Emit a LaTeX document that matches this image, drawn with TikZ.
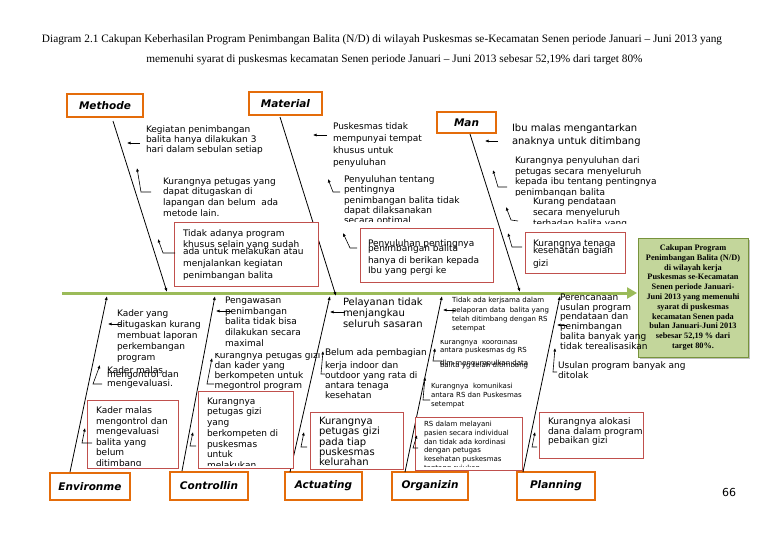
\documentclass[tikz,border=0pt]{standalone}
\usepackage{fontspec}
\setmainfont{DejaVu Sans}
\newfontfamily\tms{Liberation Serif}
\usetikzlibrary{arrows.meta,shadows}
\definecolor{orng}{HTML}{E46C0A}
\definecolor{redb}{HTML}{C0504D}
\definecolor{gfill}{HTML}{C3D69B}
\definecolor{gline}{HTML}{9BBB59}
\definecolor{gdark}{HTML}{77933C}
\newcommand\fs[2]{\fontsize{#1}{#2}\selectfont}
\tikzset{
  txt/.style={anchor=north west, inner sep=0pt, outer sep=0pt, align=left},
  catbox/.style={draw=orng, line width=2.2pt, fill=white, inner sep=0pt, font=\fs{10.5}{12}\bfseries\itshape},
  causebox/.style={draw=redb, line width=1.3pt, fill=white, inner sep=0pt, anchor=north west},
  bone/.style={line width=0.8pt, -{Latex[length=4pt,width=3.2pt]}},
  sarr/.style={line width=0.6pt, -{Latex[length=3.5pt,width=3pt]}},
}
\begin{document}
\begin{tikzpicture}[x=1pt,y=-1pt]
\useasboundingbox (0,0) rectangle (768,543);
\fill[white] (0,0) rectangle (768,543);

% title
\node[font=\tms\fs{11.3}{13}] (title1) at (382,40) {Diagram 2.1 Cakupan Keberhasilan Program Penimbangan Balita (N/D) di  wilayah Puskesmas se-Kecamatan Senen periode Januari – Juni 2013 yang};
\node[font=\tms\fs{11.3}{13}] (title2) at (394.5,60) {memenuhi syarat di puskesmas kecamatan Senen periode Januari – Juni 2013 sebesar 52,19\% dari target 80\%};

% spine
\coordinate (sp1) at (62,293);
\coordinate (sp2) at (637,293);
\draw[gline, line width=3pt, -{Triangle[length=10pt,width=11pt]}] (sp1) -- (sp2);

% effect box
\node[draw=gdark, line width=0.8pt, fill=gfill, drop shadow={shadow xshift=2pt,shadow yshift=-2pt,opacity=0.5},
      minimum width=110pt, minimum height=119pt, inner sep=0pt, align=center,
      font=\tms\bfseries\fs{8.3}{9.8}] (effect) at (693,297.5)
 {Cakupan Program\\Penimbangan Balita (N/D)\\di wilayah kerja\\Puskesmas se-Kecamatan\\Senen periode Januari-\\Juni 2013 yang memenuhi\\syarat di puskesmas\\kecamatan Senen pada\\bulan Januari-Juni 2013\\sebesar 52,19 \% dari\\target 80\%.};

% category boxes
\node[catbox, minimum width=76pt, minimum height=23pt] (methode) at (105,105.5) {Methode};
\node[catbox, minimum width=73pt, minimum height=23pt] (material) at (285.5,103.5) {Material};
\node[catbox, minimum width=59pt, minimum height=21pt] (man) at (466.5,122.5) {Man};
\node[catbox, minimum width=80pt, minimum height=27pt] (env) at (90,486.5) {Environme};
\node[catbox, minimum width=78pt, minimum height=28pt] (ctrl) at (209,486) {Controllin};
\node[catbox, minimum width=77pt, minimum height=28pt] (act) at (323.5,486) {Actuating};
\node[catbox, minimum width=76pt, minimum height=28pt] (org) at (430,486) {Organizin};
\node[catbox, minimum width=78pt, minimum height=28pt] (plan) at (556,486) {Planning};

% bones
\coordinate (bm1) at (113,121); \coordinate (bm2) at (167,292);
\coordinate (bt1) at (280,117); \coordinate (bt2) at (336,296);
\coordinate (bn1) at (470,134); \coordinate (bn2) at (520,292);
\coordinate (be1) at (70,472);  \coordinate (be2) at (107,296);
\coordinate (bc1) at (182,471); \coordinate (bc2) at (215,296);
\coordinate (ba1) at (290,472); \coordinate (ba2) at (330,296);
\coordinate (bo1) at (405,472); \coordinate (bo2) at (442,296);
\coordinate (bp1) at (523,472); \coordinate (bp2) at (560,296);
\draw[bone] (bm1) -- (bm2);
\draw[bone] (bt1) -- (bt2);
\draw[bone] (bn1) -- (bn2);
\draw[bone] (be1) -- (be2);
\draw[bone] (bc1) -- (bc2);
\draw[bone] (ba1) -- (ba2);
\draw[bone] (bo1) -- (bo2);
\draw[bone] (bp1) -- (bp2);

% ================= METHODE
\node[txt, font=\fs{9}{10}] (m1) at (146,125.7) {Kegiatan penimbangan\\balita hanya dilakukan 3\\hari dalam sebulan setiap};
\node[txt, font=\fs{9}{10.7}] (m2) at (163,177.7) {Kurangnya petugas yang\\dapat ditugaskan di\\lapangan dan belum~ ada\\metode lain.};
\node[causebox, minimum width=144pt, minimum height=64pt] (m3box) at (174,222) {};
\node[txt, font=\fs{9}{10.7}] (m3a) at (183,229.7) {Tidak adanya program\\khusus selain yang sudah};
\node[txt, font=\fs{9}{10.7}] (m3b) at (183,247.7) {ada untuk melakukan atau};
\node[txt, font=\fs{9}{11.7}] (m3c) at (183,259.7) {menjalankan kegiatan\\penimbangan balita};

\coordinate (m1a) at (140,143); \coordinate (m1b) at (127,143);
\draw[sarr] (m1a) -- (m1b);
\coordinate (m2a) at (151,192); \coordinate (m2b) at (141,192); \coordinate (m2c) at (137,168);
\draw[sarr] (m2a) -- (m2b) -- (m2c);
\coordinate (m3x) at (175,253); \coordinate (m3y) at (163,253); \coordinate (m3z) at (158,239);
\draw[sarr] (m3x) -- (m3y) -- (m3z);

% ================= MATERIAL
\node[txt, font=\fs{9}{12}] (t1) at (333,122.7) {Puskesmas tidak\\mempunyai tempat\\khusus untuk\\penyuluhan};
\begin{scope}
\clip (300,160) rectangle (530,221.5);
\node[txt, font=\fs{9}{10.3}] (t2) at (344,175.7) {Penyuluhan tentang\\pentingnya\\penimbangan balita tidak\\dapat dilaksanakan\\secara optimal};
\end{scope}
\node[causebox, minimum width=133pt, minimum height=54pt] (t3box) at (360,228) {};
\node[txt, font=\fs{9}{10}] (t3a) at (368,239.7) {Penyuluhan pentingnya};
\node[txt, font=\fs{9}{10}] (t3b) at (368,244.7) {penimbangan balita};
\node[txt, font=\fs{9}{10}] (t3c) at (368,256.7) {hanya di berikan kepada\\Ibu yang pergi ke};

\coordinate (t1a) at (327,135); \coordinate (t1b) at (313,135);
\draw[sarr] (t1a) -- (t1b);
\coordinate (t2a) at (340,192); \coordinate (t2b) at (333,192); \coordinate (t2c) at (328,179);
\draw[sarr] (t2a) -- (t2b) -- (t2c);
\coordinate (t3x) at (357,248); \coordinate (t3y) at (350,248); \coordinate (t3z) at (343,233);
\draw[sarr] (t3x) -- (t3y) -- (t3z);

% ================= MAN
\node[txt, font=\fs{10}{13}] (n1) at (512,124.3) {Ibu malas mengantarkan\\anaknya untuk ditimbang};
\begin{scope}
\clip (500,150) rectangle (700,195.5);
\node[txt, font=\fs{9}{10.6}] (n2) at (515,156.7) {Kurangnya penyuluhan dari\\petugas secara menyeluruh\\kepada ibu tentang pentingnya\\penimbangan balita};
\end{scope}
\begin{scope}
\clip (520,197.5) rectangle (640,223);
\node[txt, font=\fs{9}{11.3}] (n3) at (533,197.4) {Kurang pendataan\\secara menyeluruh\\terhadap balita yang};
\end{scope}
\node[causebox, minimum width=100pt, minimum height=41pt] (n4box) at (525,232) {};
\node[txt, font=\fs{9}{10}] (n4a) at (533,239.7) {Kurangnya tenaga};
\node[txt, font=\fs{9}{13}] (n4b) at (533,246.7) {kesehatan bagian\\gizi};

\coordinate (n1a) at (498,141); \coordinate (n1b) at (485,141);
\draw[sarr] (n1a) -- (n1b);
\coordinate (n2a) at (507,187); \coordinate (n2b) at (498,187); \coordinate (n2c) at (493,170);
\draw[sarr] (n2a) -- (n2b) -- (n2c);
\coordinate (n3a) at (518,221); \coordinate (n3b) at (511,220); \coordinate (n3c) at (506,207);
\draw[sarr] (n3a) -- (n3b) -- (n3c);
\coordinate (n4x) at (522,247); \coordinate (n4y) at (512,247); \coordinate (n4z) at (508,233);
\draw[sarr] (n4x) -- (n4y) -- (n4z);

% ================= ENVIRONMENT
\node[txt, font=\fs{9}{11}] (e1) at (117,309.7) {Kader yang\\ditugaskan kurang\\membuat laporan\\perkembangan\\program};
\node[txt, font=\fs{9}{10}] (e2a) at (107,370.2) {mengontrol dan};
\node[txt, font=\fs{9}{10}] (e2b) at (107,366.2) {Kader malas};
\node[txt, font=\fs{9}{10}] (e2c) at (107,379.7) {mengevaluasi.};
\node[causebox, minimum width=91pt, minimum height=68pt] (e3box) at (87,400) {};
\begin{scope}
\clip (88,401) rectangle (177,465);
\node[txt, font=\fs{9}{10.5}] (e3) at (96,406.7) {Kader malas\\mengontrol dan\\mengevaluasi\\balita yang\\belum\\ditimbang};
\end{scope}

\coordinate (e1a) at (121,324); \coordinate (e1b) at (108,324);
\draw[sarr] (e1a) -- (e1b);
\coordinate (e2x) at (102,384); \coordinate (e2y) at (93,384); \coordinate (e2z) at (100,365);
\draw[sarr] (e2x) -- (e2y) -- (e2z);
\coordinate (e3x) at (92,443); \coordinate (e3y) at (82,443); \coordinate (e3z) at (85,428);
\draw[sarr] (e3x) -- (e3y) -- (e3z);

% ================= CONTROLLING
\begin{scope}
\clip (200,353) rectangle (320,395);
\node[txt, font=\fs{9}{10.1}] (c2) at (214.5,351.2) {Kurangnya petugas gizi\\dan kader yang\\berkompeten untuk\\megontrol program};
\end{scope}
\node[txt, font=\fs{9}{10.8}] (c1) at (225,296.7) {Pengawasan\\penimbangan\\balita tidak bisa\\dilakukan secara\\maximal};
\node[causebox, minimum width=95pt, minimum height=77pt] (c3box) at (198,391) {};
\begin{scope}
\clip (199,392) rectangle (292,465.5);
\node[txt, font=\fs{9}{10.7}] (c3) at (207,397.7) {Kurangnya\\petugas gizi\\yang\\berkompeten di\\puskesmas\\untuk\\melakukan};
\end{scope}

\coordinate (c1a) at (231,311); \coordinate (c1b) at (216,311);
\draw[sarr] (c1a) -- (c1b);
\coordinate (c2x) at (214,384); \coordinate (c2y) at (207,384); \coordinate (c2z) at (212,358);
\draw[sarr] (c2x) -- (c2y) -- (c2z);
\coordinate (c3x) at (196,446); \coordinate (c3y) at (190,446); \coordinate (c3z) at (193,432);
\draw[sarr] (c3x) -- (c3y) -- (c3z);

% ================= ACTUATING
\node[txt, font=\fs{10}{11}] (a1) at (343,298.3) {Pelayanan tidak\\menjangkau\\seluruh sasaran};
\node[txt, font=\fs{9}{10}] (a2a) at (325,348.4) {Belum ada pembagian};
\node[txt, font=\fs{9}{10.1}] (a2b) at (325,361.4) {kerja indoor dan\\outdoor yang rata di\\antara tenaga\\kesehatan};
\node[causebox, minimum width=93pt, minimum height=57pt] (a3box) at (310,412) {};
\begin{scope}
\clip (311,413) rectangle (402,465);
\node[txt, font=\fs{10}{10.3}] (a3) at (319,417.3) {Kurangnya\\petugas gizi\\pada tiap\\puskesmas\\kelurahan};
\end{scope}

\coordinate (a1a) at (345,312); \coordinate (a1b) at (330,312);
\draw[sarr] (a1a) -- (a1b);
\coordinate (a2x) at (325,374); \coordinate (a2y) at (321,374); \coordinate (a2z) at (323,351);
\draw[sarr] (a2x) -- (a2y) -- (a2z);
\coordinate (a3x) at (307,447); \coordinate (a3y) at (301,447); \coordinate (a3z) at (304,432);
\draw[sarr] (a3x) -- (a3y) -- (a3z);

% ================= ORGANIZING
\node[txt, font=\fs{7}{9.3}] (o1) at (452,297.4) {Tidak ada kerjsama dalam\\pelaporan data~ balita yang\\telah ditimbang dengan RS\\setempat};
\begin{scope}
\clip (430,340) rectangle (540,372);
\node[txt, font=\fs{7}{8.5}] (o2) at (440,338.9) {Kurangnya~ koordinasi\\antara puskesmas dg RS};
\end{scope}
\node[txt, font=\fs{7}{8.5}] (o2c) at (440,362.4) {balita yg telah ditimbang};
\node[txt, font=\fs{7}{8.5}] (o2b) at (440,360.4) {dlm mengumpulkan data};
\node[txt, font=\fs{7}{8.7}] (o3) at (431,383.4) {Kurangnya~ komunikasi\\antara RS dan Puskesmas\\setempat};
\node[causebox, minimum width=107pt, minimum height=53pt] (o4box) at (415,417) {};
\begin{scope}
\clip (416,418) rectangle (521,466);
\node[txt, font=\fs{7}{8.7}] (o4) at (424,421.4) {RS dalam melayani\\pasien secara individual\\dan tidak ada kordinasi\\dengan petugas\\kesehatan puskesmas\\tentang rujukan};
\end{scope}

\coordinate (o1a) at (455,310); \coordinate (o1b) at (443,310);
\draw[sarr] (o1a) -- (o1b);
\coordinate (o2x) at (442,361); \coordinate (o2y) at (433,361); \coordinate (o2z) at (435,348);
\draw[sarr] (o2x) -- (o2y) -- (o2z);
\coordinate (o3x) at (430,400); \coordinate (o3y) at (423,400); \coordinate (o3z) at (425,377);
\draw[sarr] (o3x) -- (o3y) -- (o3z);
\coordinate (o4x) at (418,448); \coordinate (o4y) at (413,448); \coordinate (o4z) at (417,435);
\draw[sarr] (o4x) -- (o4y) -- (o4z);

% ================= PLANNING
\node[txt, font=\fs{9}{9.8}] (p1) at (560,293.7) {Perencanaan\\usulan program\\pendataan dan\\penimbangan\\balita banyak yang\\tidak terealisasikan};
\node[txt, font=\fs{9}{10}] (p2) at (558,361.7) {Usulan program banyak ang\\ditolak};
\node[causebox, minimum width=104pt, minimum height=46pt] (p3box) at (539,412) {};
\node[txt, font=\fs{9}{9.5}] (p3) at (548,417.7) {Kurangnya alokasi\\dana dalam program\\pebaikan gizi};

\coordinate (p1a) at (567,325); \coordinate (p1b) at (557,325);
\draw[sarr] (p1a) -- (p1b);
\coordinate (p2x) at (557,372); \coordinate (p2y) at (553,372); \coordinate (p2z) at (555,348);
\draw[sarr] (p2x) -- (p2y) -- (p2z);
\coordinate (p3x) at (537,447); \coordinate (p3y) at (532,447); \coordinate (p3z) at (535,432);
\draw[sarr] (p3x) -- (p3y) -- (p3z);

% page number
\node[font=\fs{11}{13}] (pg) at (729,492) {66};
\end{tikzpicture}
\end{document}
